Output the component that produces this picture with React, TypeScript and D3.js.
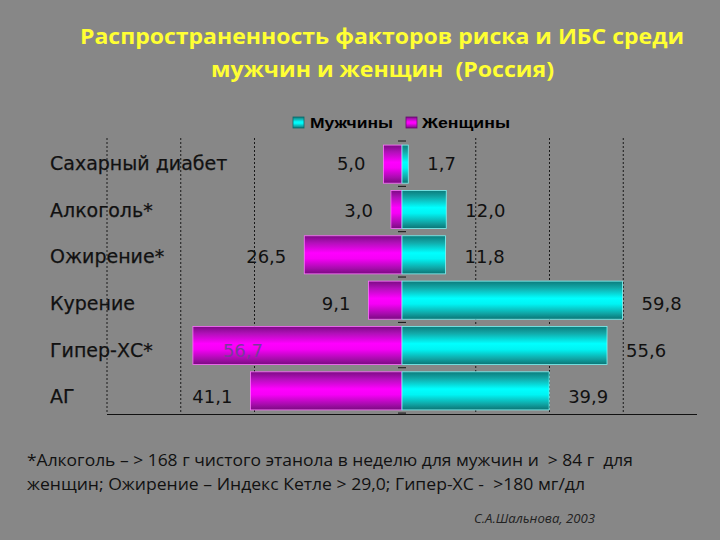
import React from "react";
import * as d3 from "d3";

const categories = ["Сахарный диабет", "Алкоголь*", "Ожирение*", "Курение", "Гипер-ХС*", "АГ"];
const menValues = [1.7, 12.0, 11.8, 59.8, 55.6, 39.9];
const womenValues = [5.0, 3.0, 26.5, 9.1, 56.7, 41.1];
const seriesNames = ["Мужчины", "Женщины"];
const gridTicks = [-80, -60, -40, 20, 40, 60];
const titleLines = ["Распространенность факторов риска и ИБС среди", "мужчин и женщин  (Россия)"];
const footnoteLines = [
  "*Алкоголь – > 168 г чистого этанола в неделю для мужчин и  > 84 г  для",
  "женщин; Ожирение – Индекс Кетле > 29,0; Гипер-ХС -  >180 мг/дл",
];
const author = "С.А.Шальнова, 2003";

const W = 720;
const H = 540;
const fmt = (v: number) => v.toFixed(1).replace(".", ",");

export default function App() {
  const x = d3.scaleLinear().domain([-80, 80]).range([107, 697]);
  const y = d3.scaleBand<string>().domain(categories).range([141, 414]).paddingInner(0.16).paddingOuter(0.09);
  const ly = d3.scaleBand<string>().domain(categories).range([140, 420]);
  const labelBase = (c: string) => (ly(c) as number) + ly.bandwidth() / 2 + 6.6;
  const x0 = x(0);
  const bw = y.bandwidth();
  const step = y.step();
  const boundaries = d3.range(categories.length + 1).map((i) => 141 + i * step);
  const valueFont = "'DejaVu Sans', Verdana, sans-serif";

  return (
    <svg width={W} height={H} style={{ position: "absolute", left: 0, top: 0, display: "block" }}>
      <defs>
        <linearGradient id="gCyan" x1="0" y1="0" x2="0" y2="1">
          <stop offset="0" stopColor="#0b7c7c" />
          <stop offset="0.18" stopColor="#12a9a9" />
          <stop offset="0.45" stopColor="#00ffff" />
          <stop offset="0.6" stopColor="#00f4f4" />
          <stop offset="0.85" stopColor="#10a4a4" />
          <stop offset="1" stopColor="#0a7474" />
        </linearGradient>
        <linearGradient id="gMag" x1="0" y1="0" x2="0" y2="1">
          <stop offset="0" stopColor="#7d0a85" />
          <stop offset="0.18" stopColor="#b010b8" />
          <stop offset="0.45" stopColor="#ff00ff" />
          <stop offset="0.6" stopColor="#f600f6" />
          <stop offset="0.85" stopColor="#a80cae" />
          <stop offset="1" stopColor="#7a0a80" />
        </linearGradient>
      </defs>
      <rect x={0} y={0} width={W} height={H} fill="#878787" />

      {/* Title */}
      {titleLines.map((t, i) => (
        <text
          key={t}
          x={i === 0 ? 80 : 211}
          y={i === 0 ? 44 : 77}
          textLength={i === 0 ? 604 : 343}
          lengthAdjust="spacingAndGlyphs"
          fill="#ffff33"
          fontFamily="'Open Sans', sans-serif"
          fontWeight={700}
          fontSize={21}
          style={{ whiteSpace: "pre" }}
        >
          {t}
        </text>
      ))}

      {/* Legend */}
      <rect x={293} y={117} width={11} height={11} fill="url(#gCyan)" stroke="#0a6a6a" strokeWidth={0.8} />
      <text x={310} y={128} textLength={83} lengthAdjust="spacingAndGlyphs" fontFamily="'Liberation Sans', Arial, sans-serif" fontWeight={700} fontSize={15} fill="#000">
        {seriesNames[0]}
      </text>
      <rect x={406} y={117} width={11} height={11} fill="url(#gMag)" stroke="#6a0a70" strokeWidth={0.8} />
      <text x={422} y={128} textLength={88} lengthAdjust="spacingAndGlyphs" fontFamily="'Liberation Sans', Arial, sans-serif" fontWeight={700} fontSize={15} fill="#000">
        {seriesNames[1]}
      </text>

      {/* Grid lines */}
      {gridTicks.map((t) => (
        <line key={t} x1={x(t)} x2={x(t)} y1={138} y2={414} stroke="#1a1a1a" strokeWidth={1} strokeDasharray="2 2" />
      ))}

      {/* Category axis ticks */}
      {boundaries.map((b, i) => (
        <line key={i} x1={x0 - 4} x2={x0 + 4} y1={b} y2={b} stroke="#111" strokeWidth={1} />
      ))}

      {/* Bars */}
      {categories.map((c, i) => (
        <g key={c}>
          <rect
            x={x(-womenValues[i])}
            y={y(c) as number}
            width={x0 - x(-womenValues[i])}
            height={bw}
            fill="url(#gMag)"
            stroke="#ff70ff"
            strokeWidth={0.8}
          />
          <rect
            x={x0}
            y={y(c) as number}
            width={x(menValues[i]) - x0}
            height={bw}
            fill="url(#gCyan)"
            stroke="#7ff6f6"
            strokeWidth={0.8}
          />
        </g>
      ))}

      {/* Bottom axis */}
      <line x1={x(-80)} x2={x(80)} y1={414.5} y2={414.5} stroke="#111" strokeWidth={1.2} />

      {/* Category labels */}
      {categories.map((c) => (
        <text key={c} x={50} y={labelBase(c)} fontFamily={valueFont} fontSize={19} fill="#111" stroke="#111" strokeWidth={0.25}>
          {c}
        </text>
      ))}

      {/* Value labels */}
      {categories.map((c, i) => {
        const wv = womenValues[i];
        const inside = wv > 50;
        return (
          <g key={c}>
            <text
              x={inside ? x(-wv) + 30 : x(-wv) - 18}
              y={labelBase(c)}
              textAnchor={inside ? "start" : "end"}
              fontFamily={valueFont}
              fontSize={18}
              fill={inside ? "#7a3a9a" : "#111"}
            >
              {fmt(wv)}
            </text>
            <text x={x(menValues[i]) + 19} y={labelBase(c)} fontFamily={valueFont} fontSize={18} fill="#111">
              {fmt(menValues[i])}
            </text>
          </g>
        );
      })}

      {/* Footnote */}
      {footnoteLines.map((t, i) => (
        <text
          key={i}
          x={27}
          y={i === 0 ? 466 : 490}
          textLength={i === 0 ? 606 : 558}
          lengthAdjust="spacingAndGlyphs"
          fontFamily="'Open Sans', sans-serif"
          fontSize={16.5}
          fill="#111"
          style={{ whiteSpace: "pre" }}
        >
          {t}
        </text>
      ))}
      <text
        x={474}
        y={523}
        textLength={121}
        lengthAdjust="spacingAndGlyphs"
        fontFamily="'Open Sans', sans-serif"
        fontStyle="italic"
        fontSize={12}
        fill="#222"
      >
        {author}
      </text>
    </svg>
  );
}
